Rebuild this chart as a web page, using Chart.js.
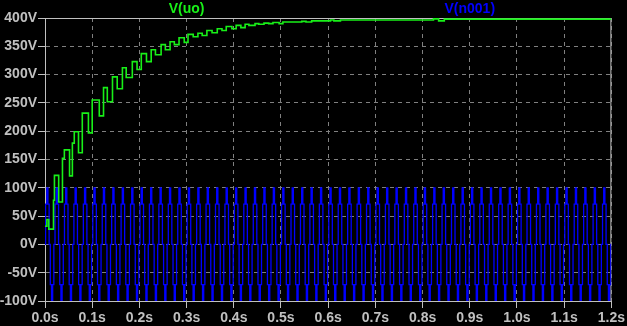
<!DOCTYPE html>
<html>
<head>
<meta charset="utf-8">
<script src="https://cdn.jsdelivr.net/npm/chart.js@4"></script>
<style>
  html, body { margin: 0; padding: 0; background: #000; overflow: hidden; }
  canvas { display: block; }
</style>
</head>
<body>
<canvas id="c" width="627" height="326"></canvas>
<script>
// --- V(uo): rectifier output (time s, volts) ---
const uoTime = [
  0.000, 0.004, 0.008, 0.018, 0.020, 0.029, 0.037, 0.041, 0.052, 0.058,
  0.062, 0.071, 0.079, 0.092, 0.100, 0.115, 0.124, 0.132, 0.143, 0.153,
  0.164, 0.172, 0.185, 0.195, 0.204, 0.215, 0.225, 0.234, 0.246, 0.255,
  0.265, 0.274, 0.284, 0.295, 0.303, 0.314, 0.324, 0.333, 0.343, 0.354,
  0.365, 0.375, 0.384, 0.396, 0.405, 0.415, 0.424, 0.432, 0.445, 0.453,
  0.464, 0.474, 0.483, 0.496, 0.504, 0.544, 0.553, 0.565, 0.605, 0.612,
  0.626, 0.823, 0.834, 0.846, 1.200
];
const uoVolts = [
   32,  44,  27,  78, 122,  75, 152, 167, 121, 179,
  199, 162, 232, 197, 255, 227, 277, 252, 296, 275,
  312, 295, 323, 309, 337, 323, 344, 335, 353, 344,
  358, 353, 365, 357, 371, 367, 373, 369, 378, 374,
  381, 378, 385, 381, 387, 383, 389, 387, 390, 389,
  391, 390, 392, 390, 393, 394, 393, 395, 396.5, 395,
  396.5, 398.5, 395, 398, 398
];

// --- V(n001): 50 Hz, 100 V source, one sample every 2.5 ms ---
const n001Step = 0.0025;
const n001Volts = [
  0, 71, 100, 71, 0, -71, -100, -71,   0, 71, 100, 71, 0, -71, -100, -71,
  0, 71, 100, 71, 0, -71, -100, -71,   0, 71, 100, 71, 0, -71, -100, -71,
  0, 71, 100, 71, 0, -71, -100, -71,   0, 71, 100, 71, 0, -71, -100, -71,
  0, 71, 100, 71, 0, -71, -100, -71,   0, 71, 100, 71, 0, -71, -100, -71,
  0, 71, 100, 71, 0, -71, -100, -71,   0, 71, 100, 71, 0, -71, -100, -71,
  0, 71, 100, 71, 0, -71, -100, -71,   0, 71, 100, 71, 0, -71, -100, -71,
  0, 71, 100, 71, 0, -71, -100, -71,   0, 71, 100, 71, 0, -71, -100, -71,
  0, 71, 100, 71, 0, -71, -100, -71,   0, 71, 100, 71, 0, -71, -100, -71,
  0, 71, 100, 71, 0, -71, -100, -71,   0, 71, 100, 71, 0, -71, -100, -71,
  0, 71, 100, 71, 0, -71, -100, -71,   0, 71, 100, 71, 0, -71, -100, -71,
  0, 71, 100, 71, 0, -71, -100, -71,   0, 71, 100, 71, 0, -71, -100, -71,
  0, 71, 100, 71, 0, -71, -100, -71,   0, 71, 100, 71, 0, -71, -100, -71,
  0, 71, 100, 71, 0, -71, -100, -71,   0, 71, 100, 71, 0, -71, -100, -71,
  0, 71, 100, 71, 0, -71, -100, -71,   0, 71, 100, 71, 0, -71, -100, -71,
  0, 71, 100, 71, 0, -71, -100, -71,   0, 71, 100, 71, 0, -71, -100, -71,
  0, 71, 100, 71, 0, -71, -100, -71,   0, 71, 100, 71, 0, -71, -100, -71,
  0, 71, 100, 71, 0, -71, -100, -71,   0, 71, 100, 71, 0, -71, -100, -71,
  0, 71, 100, 71, 0, -71, -100, -71,   0, 71, 100, 71, 0, -71, -100, -71,
  0, 71, 100, 71, 0, -71, -100, -71,   0, 71, 100, 71, 0, -71, -100, -71,
  0, 71, 100, 71, 0, -71, -100, -71,   0, 71, 100, 71, 0, -71, -100, -71,
  0, 71, 100, 71, 0, -71, -100, -71,   0, 71, 100, 71, 0, -71, -100, -71,
  0, 71, 100, 71, 0, -71, -100, -71,   0, 71, 100, 71, 0, -71, -100, -71,
  0, 71, 100, 71, 0, -71, -100, -71,   0, 71, 100, 71, 0, -71, -100, -71,
  0, 71, 100, 71, 0, -71, -100, -71,   0, 71, 100, 71, 0, -71, -100, -71,
  0, 71, 100, 71, 0, -71, -100, -71,   0, 71, 100, 71, 0, -71, -100, -71,
  0, 71, 100, 71, 0, -71, -100, -71,   0, 71, 100, 71, 0, -71, -100, -71,
  0, 71, 100, 71, 0, -71, -100, -71,   0, 71, 100, 71, 0, -71, -100, -71,
  0, 71, 100, 71, 0, -71, -100, -71,   0, 71, 100, 71, 0, -71, -100, -71,
  0, 71, 100, 71, 0, -71, -100, -71,   0, 71, 100, 71, 0, -71, -100, -71,
  0, 71, 100, 71, 0, -71, -100, -71,   0, 71, 100, 71, 0, -71, -100, -71,
  0
];

// axis ticks
const xMin = 0, xMax = 1.2, xStep = 0.1;
const yMin = -100, yMax = 400, yStep = 50;

const FONT = { family: '"Liberation Sans", Arial, sans-serif', size: 14, weight: 'bold' };
const AXIS_GREY = '#c0c0c0';
const GRID_GREY = '#808080';

// frame round the plot area + trace names on top (LTspice style)
const ltspiceFrame = {
  id: 'ltspiceFrame',
  beforeDatasetsDraw(chart) {
    const { ctx, chartArea: a } = chart;
    ctx.save();
    ctx.strokeStyle = AXIS_GREY;
    ctx.lineWidth = 1;
    ctx.setLineDash([]);
    ctx.strokeRect(a.left + 0.5, a.top + 0.5, a.right - a.left - 1, a.bottom - a.top);
    ctx.restore();
  },
  afterDatasetsDraw(chart) {
    const { ctx, chartArea: a } = chart;
    ctx.save();
    ctx.font = `${FONT.weight} ${FONT.size}px ${FONT.family}`;
    ctx.textAlign = 'center';
    ctx.textBaseline = 'middle';
    chart.data.datasets.forEach((ds, i) => {
      ctx.fillStyle = ds.borderColor;
      ctx.fillText(ds.label, a.left + (a.right - a.left) * (2 * i + 1) / 4, 9);
    });
    ctx.restore();
  }
};

new Chart(document.getElementById('c'), {
  type: 'line',
  data: {
    datasets: [
      {
        label: 'V(uo)',
        data: uoTime.map((t, i) => ({ x: t, y: uoVolts[i] })),
        borderColor: '#18f018', borderWidth: 1.6, pointRadius: 0,
        stepped: 'before', order: 0,
      },
      {
        label: 'V(n001)',
        data: n001Volts.map((v, i) => ({ x: i * n001Step, y: v })),
        borderColor: '#0000ff', borderWidth: 1.3, pointRadius: 0,
        stepped: 'middle', order: 1,
      },
    ],
  },
  options: {
    responsive: false, animation: false, devicePixelRatio: 1,
    layout: { padding: { left: 0, right: 14, top: 18, bottom: 0 } },
    plugins: { legend: { display: false }, tooltip: { enabled: false } },
    scales: {
      x: {
        type: 'linear', min: xMin, max: xMax,
        afterFit(s) { s.height = 25; },
        ticks: { stepSize: xStep, color: AXIS_GREY, font: FONT, padding: 2, maxRotation: 0,
                 autoSkip: false, callback: v => v.toFixed(1) + 's' },
        grid: { color: GRID_GREY, tickColor: AXIS_GREY, tickLength: 7, tickBorderDash: [] },
        border: { display: true, color: AXIS_GREY, dash: [4, 4] },
      },
      y: {
        min: yMin, max: yMax,
        afterFit(s) { s.width = 45; },
        ticks: { stepSize: yStep, color: AXIS_GREY, font: FONT, padding: 1,
                 autoSkip: false, callback: v => v + 'V' },
        grid: { color: GRID_GREY, tickColor: AXIS_GREY, tickLength: 7, tickBorderDash: [] },
        border: { display: true, color: AXIS_GREY, dash: [4, 4] },
      },
    },
  },
  plugins: [ltspiceFrame],
});
</script>
</body>
</html>
